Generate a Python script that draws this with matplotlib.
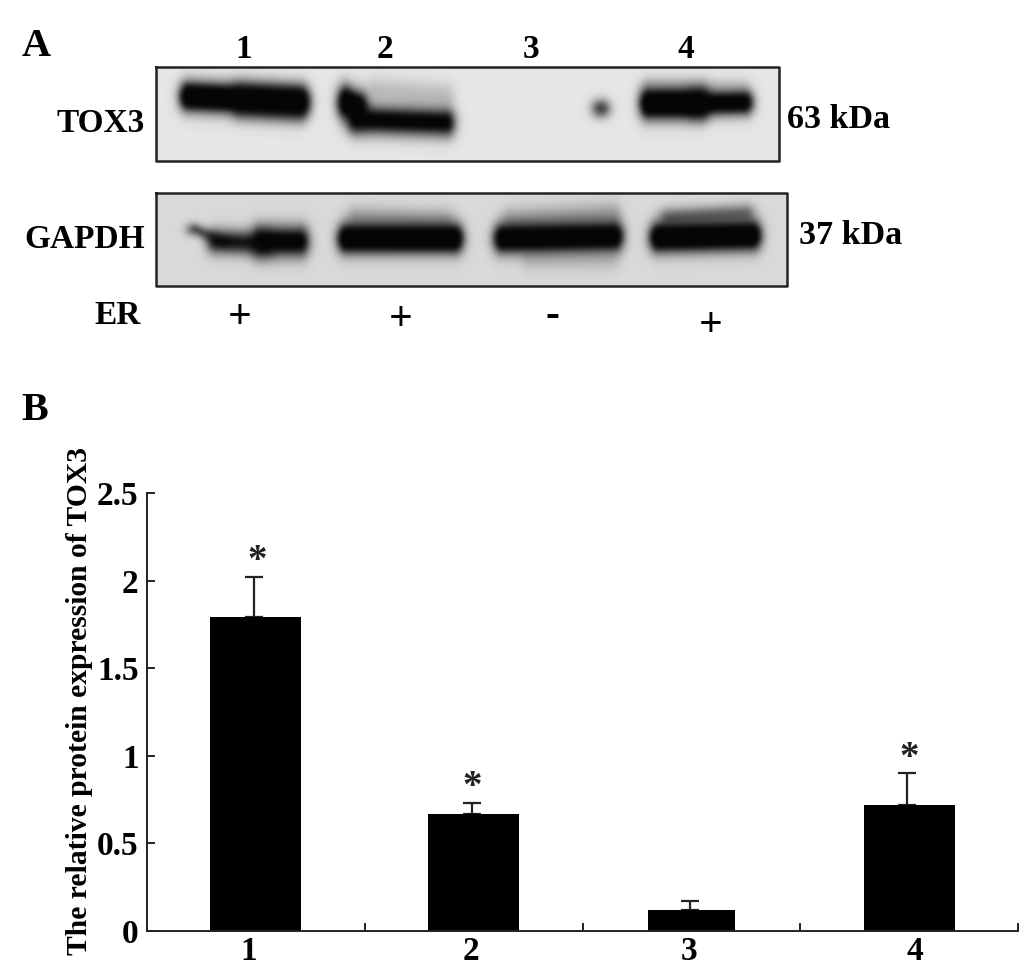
"""Western blot panels and bar chart of TOX3 expression"""
import numpy as np
import matplotlib
matplotlib.use("Agg")
import matplotlib.pyplot as plt

W, H = 1033, 974
plt.rcParams['font.family'] = ['Liberation Serif', 'DejaVu Serif']
plt.rcParams['font.weight'] = 'bold'

# bar chart values
LANES = ['1', '2', '3', '4']
EXPRESSION = [1.79, 0.67, 0.12, 0.72]
ERRORS = [0.23, 0.06, 0.05, 0.18]
BAR_WIDTHS = [0.418, 0.418, 0.40, 0.418]
STARRED = [True, True, False, True]
STAR_SHIFT = [1, -1, 0, 0]
LABEL_SHIFT = [-5, -2, -2, 4]
Y_TICKS = [0, 0.5, 1, 1.5, 2, 2.5]
Y_LABELS = ['0', '0.5', '1', '1.5', '2', '2.5']

# blot lanes, picture pixels: x0, x1, y at x0, y at x1, half height, strength
TOX3_BANDS = [
    (188, 300, 96, 101, 14, 1.6),
    (240, 298, 100, 103, 15, 1.2),
    (346, 358, 102, 108, 16, 1.6),
    (355, 446, 119, 122, 14, 1.15),
    (375, 445, 90, 95, 13, 0.18),
    (600, 601, 108, 108, 9, 0.75),
    (648, 700, 103, 103, 15, 1.6),
    (695, 744, 103, 102, 12, 1.35),
    (650, 740, 85, 86, 9, 0.12),
]
GAPDH_BANDS = [
    (195, 222, 229, 241, 6, 0.7),
    (215, 265, 241, 243, 12, 0.95),
    (260, 300, 241, 241, 15, 1.2),
    (346, 454, 238, 238, 14, 1.6),
    (355, 445, 218, 221, 12, 0.28),
    (502, 614, 238, 236, 14, 1.5),
    (510, 612, 222, 216, 14, 0.3),
    (530, 610, 258, 258, 12, 0.15),
    (658, 752, 237, 235, 14, 1.6),
    (668, 745, 217, 213, 9, 0.55),
]
ER_SIGNS = ['+', '+', '-', '+']
ER_X = [240, 401, 552, 711]
ER_Y = [318, 320, 316, 326]
BLOT_X = [244, 385, 531, 686]
BLOT_Y = [50, 50, 50, 50]


def draw_blot(ax, x0, x1, y0, y1, bands, background):
    """Paints soft dark bands on a grey panel, positions are picture pixels"""
    ys, xs = np.mgrid[y0:y1, x0:x1]
    clear = np.ones(xs.shape)
    for bx0, bx1, by0, by1, half, strength in bands:
        t = np.clip((xs - bx0) / max(bx1 - bx0, 1), 0, 1)
        yc = by0 + (by1 - by0) * t
        dx = np.maximum(np.maximum(bx0 - xs, xs - bx1), 0)
        blob = np.exp(-((ys - yc) / half) ** 2 - (dx / 9.0) ** 2)
        clear = clear * (1 - np.minimum(strength * blob, 1))
    dark = 1 - clear
    # smooth so the bands run into each other like on film
    kernel = np.ones(7) / 7
    dark = np.apply_along_axis(lambda r: np.convolve(r, kernel, mode='same'), 1, dark)
    dark = np.apply_along_axis(lambda c: np.convolve(c, kernel, mode='same'), 0, dark)
    img = background * (1 - dark) + 0.02 * dark
    ax.imshow(img, cmap='gray', vmin=0, vmax=1, extent=(x0, x1, y1, y0),
              interpolation='bilinear', zorder=1, aspect='auto')
    ax.plot([x0, x1, x1, x0, x0], [y0, y0, y1, y1, y0], color='#222222', lw=1.8, zorder=2)


fig = plt.figure(figsize=(W / 100, H / 100), dpi=100)

# top panel works in picture pixels
top = fig.add_axes([0, 0, 1, 1])
top.axis('off')
draw_blot(top, 156, 779, 67, 161, TOX3_BANDS, 0.90)
draw_blot(top, 156, 787, 193, 286, GAPDH_BANDS, 0.85)
top.set_xlim(0, W)
top.set_ylim(H, 0)

for lane, x, y in zip(LANES, BLOT_X, BLOT_Y):
    top.text(x, y, lane, fontsize=24, ha='center', va='center')
for sign, x, y in zip(ER_SIGNS, ER_X, ER_Y):
    top.text(x, y, sign, fontsize=30, ha='center', va='center')
top.text(36, 46, 'A', fontsize=29, ha='center', va='center')
top.text(35, 411, 'B', fontsize=29, ha='center', va='center')
top.text(101, 123, 'TOX3', fontsize=24, ha='center', va='center')
top.text(85, 239, 'GAPDH', fontsize=24, ha='center', va='center')
top.text(118, 315, 'ER', fontsize=24, ha='center', va='center')
top.text(839, 119, '63 kDa', fontsize=24.5, ha='center', va='center')
top.text(851, 236, '37 kDa', fontsize=24.5, ha='center', va='center')

# bar chart
ax = fig.add_axes([147 / W, 1 - 931 / H, (1018 - 147) / W, (931 - 493) / H])
pos = np.arange(len(LANES))
ax.bar(pos, EXPRESSION, width=BAR_WIDTHS, color='black', zorder=2)
ax.errorbar(pos - 0.008, EXPRESSION, yerr=[np.zeros(4), ERRORS], fmt='none', ecolor='#222222',
            elinewidth=1.6, capsize=6.5, capthick=1.6, zorder=1)
ax.set_xlim(-0.5, 3.5)
ax.set_ylim(0, 2.5)
ax.set_yticks(Y_TICKS)
ax.set_yticklabels(Y_LABELS, fontsize=24)
ax.set_xticks(pos + 0.5)
ax.set_xticklabels([])
ax.tick_params(axis='both', direction='in', length=6, width=1.4, color='#222222')
ax.tick_params(axis='y', pad=6)
for s in ['top', 'right']:
    ax.spines[s].set_visible(False)
for s in ['left', 'bottom']:
    ax.spines[s].set_linewidth(1.4)
    ax.spines[s].set_color('#222222')
for i, lane in enumerate(LANES):
    ax.annotate(lane, (pos[i], 0), xytext=(LABEL_SHIFT[i], -15), textcoords='offset points',
                fontsize=24, ha='center', va='center', annotation_clip=False)
    if STARRED[i]:
        ax.annotate('*', (pos[i], EXPRESSION[i] + ERRORS[i]), xytext=(STAR_SHIFT[i], 11),
                    textcoords='offset points', fontsize=28, ha='center', va='center',
                    color='#222222')
ax.set_facecolor('none')
top.text(80, 701, 'The relative protein expression of TOX3', fontsize=21.3,
         rotation=90, ha='center', va='center')

fig.savefig('out.png', dpi=100)
